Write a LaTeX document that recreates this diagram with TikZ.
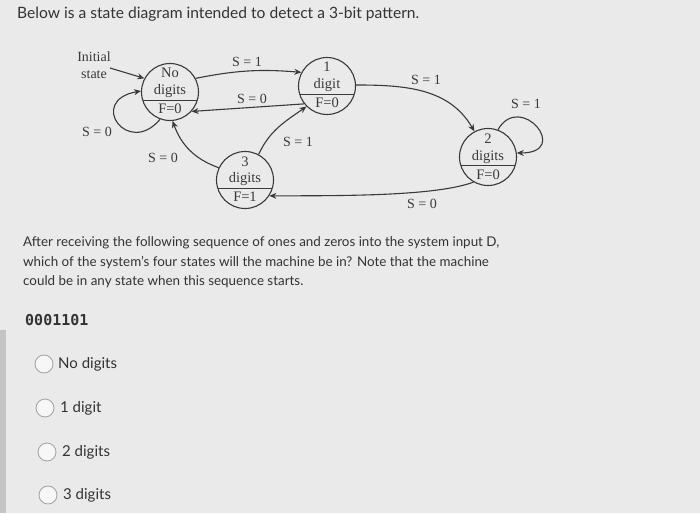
\documentclass[tikz,border=0pt]{standalone}
\usepackage{fontspec}
\setmainfont{Lato}
\newfontfamily\diagfont{Liberation Serif}
\newfontfamily\codefont{DejaVu Sans Mono}
\usetikzlibrary{arrows.meta,calc}
\definecolor{bgc}{HTML}{EAEAEA}
\definecolor{ink}{HTML}{333333}
\definecolor{dink}{HTML}{3A3A3A}
\definecolor{radio}{HTML}{A8A8A8}
\definecolor{strip}{HTML}{C4C4C4}
\tikzset{
  qtext/.style={anchor=west, inner sep=0pt, text=ink, font=\fontsize{15}{18}\selectfont},
  ptext/.style={anchor=west, inner sep=0pt, text=ink, font=\fontsize{13.4}{16}\selectfont},
  state/.style={circle, draw=dink, line width=1.1pt, minimum size=57pt, inner sep=0pt},
  stxt/.style={inner sep=0pt, text=dink, font=\diagfont\fontsize{14.5}{16}\selectfont},
  lbl/.style={inner sep=0pt, text=dink, font=\diagfont\fontsize{14}{16}\selectfont},
  edge/.style={draw=dink, line width=1.1pt, -{Stealth[length=7pt,width=6pt]}},
  radiobtn/.style={circle, draw=radio, fill=white!60!bgc, line width=0.9pt, minimum size=18pt, inner sep=0pt},
}
\begin{document}
\begin{tikzpicture}[x=1pt,y=1pt]
\useasboundingbox (0,0) rectangle (700,-513);
\fill[bgc] (0,0) rectangle (700,-513);
\fill[strip] (0,-330) rectangle (6,-513);

% title
\node[qtext, font=\fontsize{15.6}{18}\selectfont] (title) at (17,-14) {Below is a state diagram intended to detect a 3-bit pattern.};

% states
\node[state] (n0) at (170,-92) {};
\node[state] (n1) at (327,-86) {};
\node[state] (n2) at (488,-157) {};
\node[state] (n3) at (245,-180) {};
\foreach \n in {n0,n1,n2,n3}{
  \draw[dink, line width=1.1pt] ($(\n.center)+(-26.8,-8.5)$) -- ($(\n.center)+(26.8,-8.5)$);
}
\node[stxt] (t0a) at (170,-73) {No};
\node[stxt] (t0b) at (170,-91) {digits};
\node[stxt] (t0c) at (170,-109) {F=0};
\node[stxt] (t1a) at (327,-67) {1};
\node[stxt] (t1b) at (327,-85) {digit};
\node[stxt] (t1c) at (327,-103) {F=0};
\node[stxt] (t2a) at (488,-139) {2};
\node[stxt] (t2b) at (488,-157) {digits};
\node[stxt] (t2c) at (488,-175) {F=0};
\node[stxt] (t3a) at (245,-162) {3};
\node[stxt] (t3b) at (245,-179) {digits};
\node[stxt] (t3c) at (245,-197) {F=1};

% initial
\node[lbl] (ini1) at (94,-57) {Initial};
\node[lbl] (ini2) at (94,-75) {state};
\coordinate (inis) at (110,-68);
\draw[edge] (inis) -- (n0.152);

% edges
\draw[edge] (n0.28) to[bend left=8] (n1.152);
\draw[edge] (n1.218) -- (n0.318);
\draw[edge] (n0.250) .. controls +(230:50) and +(190:55) .. (n0.178);
\draw[edge] (n3.155) to[out=160,in=290] (n0.275);
\draw[edge] (n3.62) to[out=65,in=215] (n1.225);
\draw[edge] (n1.2) to[out=0,in=120] (n2.118);
\draw[edge] (n2.70) .. controls +(60:45) and +(0:55) .. (n2.8);
\draw[edge] (n2.240) .. controls +(200:40) and +(0:80) .. (n3.327);

% labels
\node[lbl] (l1) at (247,-62) {S = 1};
\node[lbl] (l2) at (252,-99) {S = 0};
\node[lbl] (l3) at (97,-132) {S = 0};
\node[lbl] (l4) at (163,-158) {S = 0};
\node[lbl] (l5) at (298,-142) {S = 1};
\node[lbl] (l6) at (426,-80) {S = 1};
\node[lbl] (l7) at (526,-104) {S = 1};
\node[lbl] (l8) at (422,-204) {S = 0};

% question
\node[ptext] (p1) at (23,-243) {After receiving the following sequence of ones and zeros into the system input D,};
\node[ptext] (p2) at (23,-263) {which of the system's four states will the machine be in? Note that the machine};
\node[ptext] (p3) at (23,-282) {could be in any state when this sequence starts.};
\node[anchor=west, inner sep=0pt, text=ink, font=\codefont\bfseries\fontsize{15}{18}\selectfont] (seq) at (25,-320) {0001101};

% options
\node[radiobtn] (r1) at (44,-364) {};
\node[radiobtn] (r2) at (45,-408) {};
\node[radiobtn] (r3) at (47,-452) {};
\node[radiobtn] (r4) at (48,-495) {};
\node[qtext] (o1) at (58,-364) {No digits};
\node[qtext] (o2) at (60,-408) {1 digit};
\node[qtext] (o3) at (62,-452) {2 digits};
\node[qtext] (o4) at (63,-495) {3 digits};
\end{tikzpicture}
\end{document}
